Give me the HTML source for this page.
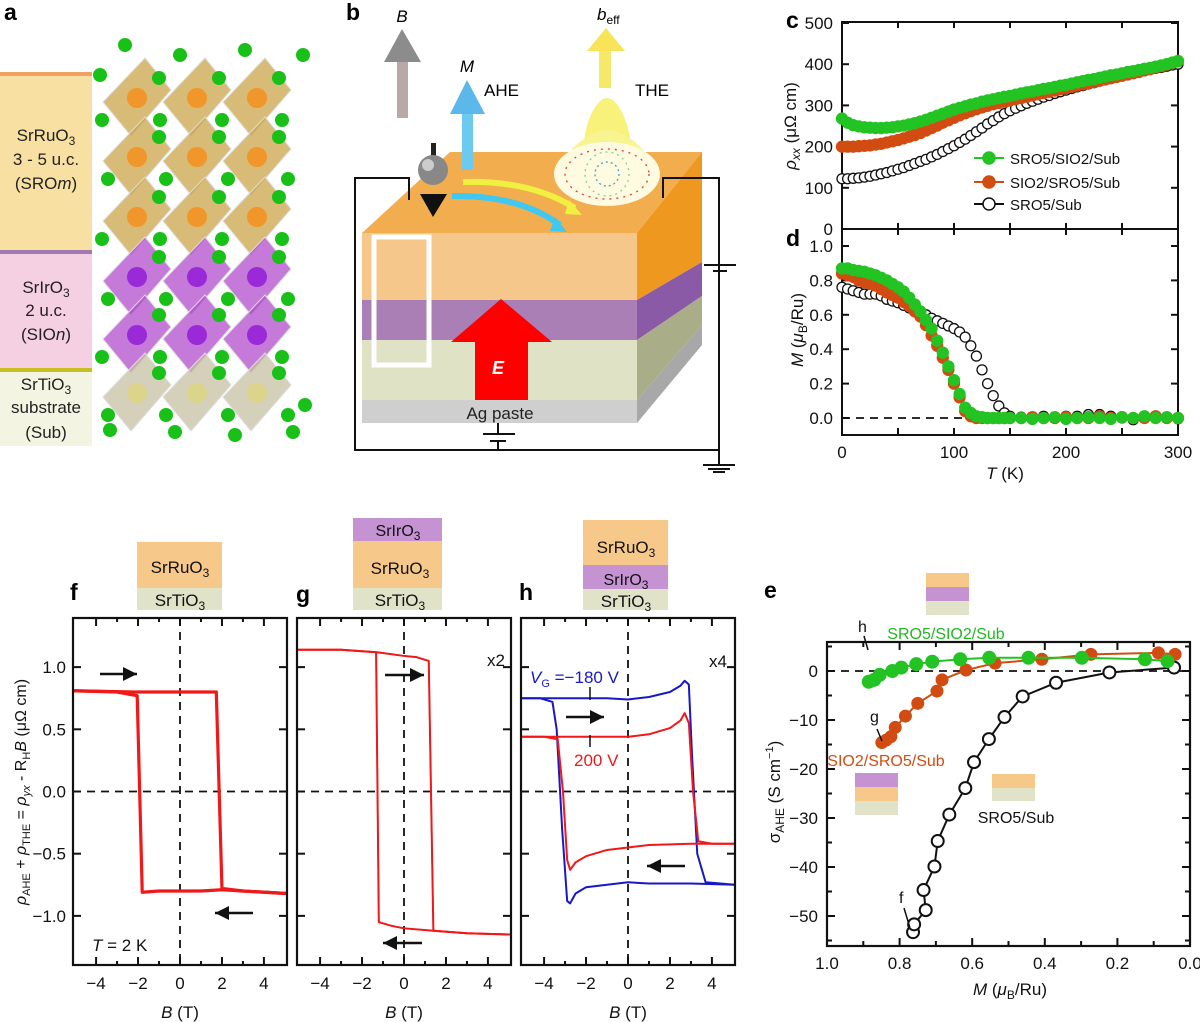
<!DOCTYPE html>
<html><head><meta charset="utf-8"><style>
html,body{margin:0;padding:0;background:#fff}
svg{display:block;font-family:"Liberation Sans",Arial,sans-serif}
</style></head><body>
<svg id="fig" xmlns="http://www.w3.org/2000/svg" width="1200" height="1022" viewBox="0 0 1200 1022">
<rect x="0" y="0" width="1200" height="1022" fill="#fff"/>
<g font-weight="bold" font-size="23">
<text x="4" y="20">a</text>
<text x="346" y="20">b</text>
<text x="786" y="28">c</text>
<text x="786" y="246">d</text>
<text x="70" y="600">f</text>
<text x="296" y="602">g</text>
<text x="519" y="600">h</text>
<text x="764" y="598">e</text>
</g>
<g font-size="17" text-anchor="middle" fill="#222">
<rect x="0" y="72" width="92" height="4" fill="#f0a060"/>
<rect x="0" y="76" width="92" height="174" fill="#f8e0a2"/>
<rect x="0" y="250" width="92" height="4" fill="#a07ab0"/>
<rect x="0" y="254" width="92" height="114" fill="#f5cfe2"/>
<rect x="0" y="368" width="92" height="4" fill="#c8c020"/>
<rect x="0" y="372" width="92" height="74" fill="#f4f4e2"/>
<text x="46" y="141">SrRuO<tspan font-size="12" dy="4">3</tspan></text>
<text x="46" y="165">3 - 5 u.c.</text>
<text x="46" y="189">(SRO<tspan font-style="italic">m</tspan>)</text>
<text x="46" y="293">SrIrO<tspan font-size="12" dy="4">3</tspan></text>
<text x="46" y="316">2 u.c.</text>
<text x="46" y="340">(SIO<tspan font-style="italic">n</tspan>)</text>
<text x="46" y="390">SrTiO<tspan font-size="12" dy="4">3</tspan></text>
<text x="46" y="413">substrate</text>
<text x="46" y="438">(Sub)</text>
</g>
<g id="crystal"></g>
<g>
<polygon points="362,233 637,233 702,152 450,152" fill="#f2ae4e"/>
<polygon points="637,233 702,152 702,262 637,300" fill="#ef9820"/>
<polygon points="637,300 702,262 702,296 637,340" fill="#8a5aa6"/>
<polygon points="637,340 702,296 702,325 637,400" fill="#aaae88"/>
<polygon points="637,400 702,325 702,345 637,423" fill="#a8a8a8"/>
<rect x="362" y="233" width="275" height="68" fill="#f6c78a"/>
<rect x="362" y="300" width="275" height="40" fill="#a97fb6"/>
<rect x="362" y="340" width="275" height="61" fill="#dfe2c4"/>
<rect x="362" y="400" width="275" height="23" fill="#cfcfcf"/>
<rect x="374" y="237" width="55" height="128" fill="none" stroke="#fff" stroke-width="5"/>
<polygon points="475,400 528,400 528,342 552,342 501,299 451,342 475,342" fill="#f00"/>
<text x="498" y="374" fill="#fff" font-weight="bold" font-style="italic" font-size="18" text-anchor="middle">E</text>
<text x="500" y="419" font-size="17" text-anchor="middle" fill="#222">Ag paste</text>
<path d="M409,200 V178 H355 V450 H719 V178 H663 V198" fill="none" stroke="#111" stroke-width="2"/>
<path d="M498,423 V434 M483,434 H515 M490,441 H506 M498,441 V450" stroke="#111" stroke-width="2" fill="none"/>
<path d="M704,265 H736 M713,271 H727" stroke="#111" stroke-width="2" fill="#fff"/>
<path d="M719,450 V465 M703,465 H735 M708,469 H730 M713,472 H725" stroke="#111" stroke-width="2" fill="none"/>
<path d="M585,160 C580,130 595,98 607,98 C619,98 634,130 630,160 Z" fill="#f8f27a"/>
<path d="M555,175 C565,150 590,130 607,130 C624,130 650,150 660,175 Z" fill="#f8f490"/>
<ellipse cx="607" cy="174" rx="53" ry="32" fill="#fffbe0"/>
<g stroke-width="1.3">
<circle cx="607" cy="174" r="22" fill="none" stroke="#7fd0a0" stroke-dasharray="2 4"/>
<circle cx="607" cy="174" r="12" fill="none" stroke="#40a0d0" stroke-dasharray="2 3"/>
<ellipse cx="607" cy="174" rx="42" ry="25" fill="none" stroke="#e04030" stroke-dasharray="2 5"/>
</g>
<rect x="397" y="62" width="11" height="56" fill="#b8a8a8"/>
<polygon points="384,62 421,62 402,29" fill="#8c8c8c"/>
<text x="402" y="22" font-style="italic" font-size="17" text-anchor="middle">B</text>
<rect x="462" y="113" width="11" height="57" fill="#6ccaf0"/>
<polygon points="450,114 485,114 467,80" fill="#5ab8ea"/>
<text x="467" y="72" font-style="italic" font-size="17" text-anchor="middle">M</text>
<text x="484" y="96" font-size="17">AHE</text>
<rect x="599" y="50" width="12" height="38" fill="#f6e96a"/>
<polygon points="587,51 625,51 606,28" fill="#f8e458"/>
<text x="597" y="20" font-style="italic" font-size="17">b<tspan font-style="normal" font-size="12" dy="4">eff</tspan></text>
<text x="635" y="96" font-size="17">THE</text>
<path d="M463,182 Q530,180 575,208" fill="none" stroke="#f0f040" stroke-width="6"/>
<polygon points="569,200 582,215 565,214" fill="#f0f040"/>
<path d="M452,196 Q520,195 560,225" fill="none" stroke="#40c8f0" stroke-width="6"/>
<polygon points="555,217 567,232 550,231" fill="#40c8f0"/>
<rect x="431" y="143" width="5" height="20" fill="#222"/>
<circle cx="433" cy="170" r="15" fill="#888"/>
<circle cx="428" cy="165" r="6" fill="#ddd" opacity="0.8"/>
<polygon points="420,194 447,194 433,217" fill="#111"/>
</g>
<g id="charts"></g>
</svg>
<script>
// ---------- panel c data ----------
const tempC = [0,5,10,15,20,25,30,35,40,45,50,55,60,65,70,75,80,85,90,95,100,105,110,115,120,125,130,135,140,145,150,155,160,165,170,175,180,185,190,195,200,205,210,215,220,225,230,235,240,245,250,255,260,265,270,275,280,285,290,295,300];
const rhoGreen = [268,258,252,249,247,246,245,245,246,247,249,251,254,257,261,265,270,275,280,285,290,294,298,302,305,309,312,315,318,321,323,326,329,332,334,337,340,342,345,348,350,353,356,359,362,364,367,370,373,375,378,381,383,386,389,391,394,397,400,404,408];
const rhoOrange = [200,200,200,201,202,203,205,207,210,213,216,220,224,228,233,239,245,251,258,264,270,276,281,286,291,295,299,303,306,309,312,315,318,321,324,327,330,333,336,339,342,345,348,351,354,357,360,363,366,369,372,375,378,381,385,388,392,395,399,403,407];
const rhoBlack = [122,122,123,124,126,128,131,134,137,141,145,149,154,159,164,169,175,181,188,195,202,210,218,227,236,245,255,263,272,280,287,293,299,305,310,315,320,324,329,333,337,341,345,348,352,355,359,362,365,369,372,375,378,381,384,387,390,392,395,398,400];
const rhoTicks = [0,100,200,300,400,500];
// ---------- panel d data ----------
const tempD = [0,5,10,15,20,25,30,35,40,45,50,55,60,65,70,75,80,85,90,95,100,105,110,115,120,125,130,135,140,145,150,160,170,180,190,200,210,220,230,240,250,260,270,280,290,300];
const magGreen = [0.87,0.87,0.86,0.855,0.85,0.84,0.83,0.815,0.80,0.78,0.76,0.735,0.70,0.66,0.62,0.57,0.52,0.45,0.38,0.30,0.22,0.14,0.06,0.03,0.01,0.005,0,0,0,0,0,0,-0.005,0,0.005,-0.005,0,0.005,0,-0.005,0.005,0,0.01,0,0.005,0];
const magOrange = [0.84,0.83,0.82,0.80,0.79,0.78,0.77,0.75,0.73,0.715,0.70,0.675,0.65,0.62,0.59,0.54,0.48,0.42,0.35,0.28,0.20,0.12,0.04,0.01,0,0,0,0,0,0,0,0,0.005,0,0,0.005,0,0,0.01,0,0.005,0,0,0.01,0,0];
const magBlack = [0.76,0.75,0.74,0.73,0.72,0.72,0.72,0.71,0.69,0.68,0.67,0.655,0.64,0.63,0.62,0.60,0.58,0.565,0.55,0.535,0.52,0.50,0.47,0.42,0.36,0.28,0.20,0.13,0.07,0.03,0.01,0.005,0,0.01,0,0.01,0.01,0.02,0.02,0.01,0,-0.01,0.01,0,0,-0.005];
const magTicks = [0,0.2,0.4,0.6,0.8,1.0];
const tempTicks = [0,100,200,300];
// ---------- panel e data ----------
const eGreenM = [0.885,0.87,0.855,0.82,0.795,0.754,0.71,0.633,0.553,0.445,0.298,0.124,0.062];
const eGreenS = [-2.2,-1.8,-0.8,0,0.7,1.4,1.9,2.4,2.7,2.7,2.7,2.4,2.0];
const eOrangeM = [0.849,0.837,0.824,0.812,0.784,0.75,0.697,0.683,0.617,0.537,0.408,0.273,0.087,0.041];
const eOrangeS = [-14.6,-14.1,-13.4,-11.5,-9.2,-6.6,-4.1,-1.8,0.2,1.6,2.4,3.4,3.7,3.4];
const eBlackM = [0.763,0.76,0.728,0.734,0.704,0.695,0.663,0.619,0.595,0.554,0.511,0.461,0.369,0.222,0.044];
const eBlackS = [-53.3,-51.7,-48.8,-44.7,-39.9,-34.7,-29.3,-23.9,-18.6,-13.9,-9.4,-5.2,-2.4,-0.3,0.7];
const eYTicks = [0,-10,-20,-30,-40,-50];
const eXTicks = [1.0,0.8,0.6,0.4,0.2,0.0];
// ---------- panels f,g,h data ----------
const fUpB = [-5.1,-2.2,-1,0,1,1.73,2.0,3,5.1];
const fUpR = [0.81,0.80,0.80,0.80,0.80,0.80,-0.78,-0.80,-0.82];
const fDnB = [5.1,3,2,1,0,-1,-1.8,-2.04,-3,-5.1];
const fDnR = [-0.82,-0.80,-0.79,-0.80,-0.80,-0.80,-0.81,0.77,0.80,0.81];
const gUpB = [-5.1,-3,-1.3,0,0.6,1.18,1.4,3,5.1];
const gUpR = [1.14,1.14,1.12,1.09,1.08,1.05,-1.12,-1.14,-1.15];
const gDnB = [5.1,3,1.4,0,-0.6,-1.2,-1.33,-3,-5.1];
const gDnR = [-1.15,-1.14,-1.12,-1.10,-1.08,-1.05,1.12,1.14,1.14];
const hBlueUpB = [-5.1,-3,-1,0,1,2,2.5,2.7,2.9,3.05,3.3,3.7,5.1];
const hBlueUpR = [0.75,0.75,0.75,0.74,0.76,0.80,0.85,0.89,0.86,0.3,-0.5,-0.73,-0.75];
const hBlueDnB = [5.1,3,1,0,-1,-2,-2.5,-2.76,-2.9,-3.14,-3.4,-3.6,-4.2,-5.1];
const hBlueDnR = [-0.75,-0.74,-0.74,-0.73,-0.75,-0.77,-0.82,-0.90,-0.88,-0.3,0.5,0.72,0.75,0.75];
const hRedUpB = [-5.1,-3,-1,0,1,2,2.5,2.7,2.9,3.1,3.35,4,5.1];
const hRedUpR = [0.44,0.44,0.44,0.44,0.46,0.51,0.57,0.63,0.55,0.0,-0.40,-0.42,-0.42];
const hRedDnB = [5.1,3,1,0,-1,-2,-2.5,-2.76,-2.9,-3.1,-3.35,-4,-5.1];
const hRedDnR = [-0.42,-0.42,-0.43,-0.45,-0.47,-0.52,-0.57,-0.63,-0.55,0.0,0.42,0.44,0.44];
const bTicks = [-4,-2,0,2,4];
const fYTicks = [1.0,0.5,0.0,-0.5,-1.0];
const fYTickLabels = ['1.0','0.5','0.0','\u22120.5','\u22121.0'];

const NS = 'http://www.w3.org/2000/svg';
const root = document.getElementById('charts');
function mk(tag, attrs, name, parent) {
  const el = document.createElementNS(NS, tag);
  for (const k in attrs) el.setAttribute(k, attrs[k]);
  
  
  (parent || root).appendChild(el);
  return el;
}
function txt(x, y, s, attrs, name, parent) {
  const a = Object.assign({x: x, y: y, 'font-size': 17, fill: '#111'}, attrs || {});
  const el = mk('text', a, name, parent);
  el.textContent = s;
  return el;
}
function scale(d0, d1, r0, r1) { return v => r0 + (v - d0) / (d1 - d0) * (r1 - r0); }
function fmtNeg(v, dec) { const s = Math.abs(v).toFixed(dec); return v < 0 ? '\u2212' + s : s; }

(function(){
  const g = document.getElementById('crystal');
  const cols = [137,197,257];
  const rows = [98,157,217,277,335,393];
  const fills = ['#c9a448','#c9a448','#c9a448','#b14ccc','#b14ccc','#c6c0a2'];
  const balls = ['#f0962a','#f0962a','#f0962a','#9a2ad8','#9a2ad8','#dcd48a'];
  rows.forEach((cy, r) => {
    cols.forEach(cx => {
      mk('polygon', {points: (cx+8)+','+(cy-40)+' '+(cx+34)+','+(cy-8)+' '+(cx-6)+','+(cy+38)+' '+(cx-34)+','+(cy+4), fill: fills[r], 'fill-opacity': 0.75, stroke: '#ddd', 'stroke-width': 1}, 'octahedron', g);
      mk('circle', {cx: cx, cy: cy, r: 10, fill: balls[r]}, 'b-site-ion', g);
      mk('circle', {cx: cx + 22, cy: cy - 20, r: 7, fill: '#18c018'}, 'sr-ion', g);
    });
    [102,160,222,282].forEach(x => {
      mk('circle', {cx: x + (r % 2) * 6, cy: cy + 22, r: 7, fill: '#18c018'}, 'sr-ion', g);
    });
  });
  [[125,45],[180,55],[245,50],[303,55],[100,75],[110,430],[175,432],[235,435],[293,432],[305,405]].forEach(p => {
    mk('circle', {cx: p[0], cy: p[1], r: 7, fill: '#18c018'}, 'sr-ion', g);
  });
})();

// ---------- panel c ----------
(function(){
  const g = mk('g', {}, 'panel-c-resistivity');
  const sx = scale(0, 300, 842, 1178);
  const sy = scale(0, 500, 229, 23);
  mk('rect', {x: 842, y: 22, width: 336, height: 207, fill: 'none', stroke: '#111', 'stroke-width': 2}, 'plot-frame-c', g);
  rhoTicks.forEach(v => {
    mk('line', {x1: 842, x2: 849, y1: sy(v), y2: sy(v), stroke: '#111', 'stroke-width': 2}, 'y-tick-c', g);
    mk('line', {x1: 1171, x2: 1178, y1: sy(v), y2: sy(v), stroke: '#111', 'stroke-width': 2}, 'y-tick-c-right', g);
    txt(833, sy(v) + 6, String(v), {'text-anchor': 'end'}, 'y-tick-label-c', g);
  });
  [50,100,150,200,250].forEach(v => {
    mk('line', {x1: sx(v), x2: sx(v), y1: 22, y2: 28, stroke: '#111', 'stroke-width': 2}, 'x-tick-c', g);
    mk('line', {x1: sx(v), x2: sx(v), y1: 223, y2: 235, stroke: '#111', 'stroke-width': 2}, 'x-tick-cd', g);
  });
  const yt = txt(0, 0, '', {transform: 'translate(796,126) rotate(-90)', 'text-anchor': 'middle'}, 'y-axis-title-c', g);
  yt.innerHTML = '<tspan font-style="italic">\u03c1</tspan><tspan font-style="italic" font-size="12" dy="4">xx</tspan><tspan dy="-4"> (\u03bc\u03a9 cm)</tspan>';
  function series(vals, fill, stroke, name, r) {
    tempC.forEach((t, i) => {
      mk('circle', {cx: sx(t), cy: sy(vals[i]), r: r, fill: fill, stroke: stroke, 'stroke-width': 1.3}, name, g);
    });
  }
  series(rhoBlack, '#fff', '#111', 'point-sro5-sub', 5);
  series(rhoOrange, '#d24c12', '#d24c12', 'point-sio2-sro5-sub', 5.5);
  series(rhoGreen, '#22c322', '#22c322', 'point-sro5-sio2-sub', 5.5);
  const leg = [['SRO5/SIO2/Sub', '#22c322', '#22c322', 158], ['SIO2/SRO5/Sub', '#d24c12', '#d24c12', 182], ['SRO5/Sub', '#fff', '#111', 204]];
  leg.forEach(l => {
    mk('line', {x1: 974, x2: 1004, y1: l[3], y2: l[3], stroke: l[2], 'stroke-width': 2}, 'legend-line', g);
    mk('circle', {cx: 989, cy: l[3], r: 6, fill: l[1], stroke: l[2], 'stroke-width': 1.5}, 'legend-marker', g);
    txt(1010, l[3] + 6, l[0], {'font-size': 15}, 'legend-entry', g);
  });
})();

// ---------- panel d ----------
(function(){
  const g = mk('g', {}, 'panel-d-magnetization');
  const sx = scale(0, 300, 842, 1178);
  const sy = scale(0, 1, 418, 246);
  mk('rect', {x: 842, y: 229, width: 336, height: 206, fill: 'none', stroke: '#111', 'stroke-width': 2}, 'plot-frame-d', g);
  mk('line', {x1: 842, x2: 1178, y1: sy(0), y2: sy(0), stroke: '#111', 'stroke-width': 1.8, 'stroke-dasharray': '8 6'}, 'zero-line-d', g);
  magTicks.forEach(v => {
    mk('line', {x1: 842, x2: 849, y1: sy(v), y2: sy(v), stroke: '#111', 'stroke-width': 2}, 'y-tick-d', g);
    mk('line', {x1: 1171, x2: 1178, y1: sy(v), y2: sy(v), stroke: '#111', 'stroke-width': 2}, 'y-tick-d-right', g);
    txt(833, sy(v) + 6, v.toFixed(1), {'text-anchor': 'end'}, 'y-tick-label-d', g);
  });
  [50,100,150,200,250].forEach(v => {
    mk('line', {x1: sx(v), x2: sx(v), y1: 428, y2: 435, stroke: '#111', 'stroke-width': 2}, 'x-tick-d', g);
  });
  tempTicks.forEach(v => txt(sx(v), 458, String(v), {'text-anchor': 'middle'}, 'x-tick-label-d', g));
  const xt = txt(1005, 479, '', {'text-anchor': 'middle'}, 'x-axis-title-d', g);
  xt.innerHTML = '<tspan font-style="italic">T</tspan> (K)';
  const yt = txt(0, 0, '', {transform: 'translate(803,330) rotate(-90)', 'text-anchor': 'middle'}, 'y-axis-title-d', g);
  yt.innerHTML = '<tspan font-style="italic">M</tspan> (<tspan font-style="italic">\u03bc</tspan><tspan font-size="12" dy="4">B</tspan><tspan dy="-4">/Ru)</tspan>';
  function series(vals, fill, stroke, name, r) {
    tempD.forEach((t, i) => {
      mk('circle', {cx: sx(t), cy: sy(vals[i]), r: r, fill: fill, stroke: stroke, 'stroke-width': 1.3}, name, g);
    });
  }
  series(magBlack, '#fff', '#111', 'point-sro5-sub', 5);
  series(magOrange, '#d24c12', '#d24c12', 'point-sio2-sro5-sub', 5.5);
  series(magGreen, '#22c322', '#22c322', 'point-sro5-sio2-sub', 5.5);
})();

function stack(g, x, y, w, layers, name) {
  let yy = y;
  layers.forEach(l => { mk('rect', {x: x, y: yy, width: w, height: l[1], fill: l[0]}, name, g); yy += l[1]; });
}
// ---------- panel e ----------
(function(){
  const g = mk('g', {}, 'panel-e-sigma-vs-m');
  const sx = scale(1, 0, 827, 1190);
  const sy = scale(0, -50, 671, 916);
  mk('rect', {x: 827, y: 642, width: 363, height: 304, fill: 'none', stroke: '#111', 'stroke-width': 2.2}, 'plot-frame-e', g);
  mk('line', {x1: 827, x2: 1190, y1: sy(0), y2: sy(0), stroke: '#111', 'stroke-width': 1.8, 'stroke-dasharray': '8 6'}, 'zero-line-e', g);
  [5,0,-5,-10,-15,-20,-25,-30,-35,-40,-45,-50,-55].forEach(v => {
    const L = v % 10 === 0 ? 8 : 5;
    mk('line', {x1: 827, x2: 827 + L, y1: sy(v), y2: sy(v), stroke: '#111', 'stroke-width': 2}, 'y-tick-e', g);
    mk('line', {x1: 1190 - L, x2: 1190, y1: sy(v), y2: sy(v), stroke: '#111', 'stroke-width': 2}, 'y-tick-e-right', g);
  });
  eYTicks.forEach(v => txt(818, sy(v) + 6, v === 0 ? '0' : '\u2212' + Math.abs(v), {'text-anchor': 'end'}, 'y-tick-label-e', g));
  [0.9,0.8,0.7,0.6,0.5,0.4,0.3,0.2,0.1].forEach(v => {
    const L = Math.round(v * 10) % 2 === 0 ? 8 : 5;
    mk('line', {x1: sx(v), x2: sx(v), y1: 946 - L, y2: 946, stroke: '#111', 'stroke-width': 2}, 'x-tick-e', g);
    mk('line', {x1: sx(v), x2: sx(v), y1: 642, y2: 642 + L, stroke: '#111', 'stroke-width': 2}, 'x-tick-e-top', g);
  });
  eXTicks.forEach(v => txt(sx(v), 969, v.toFixed(1), {'text-anchor': 'middle'}, 'x-tick-label-e', g));
  const xt = txt(1010, 995, '', {'text-anchor': 'middle'}, 'x-axis-title-e', g);
  xt.innerHTML = '<tspan font-style="italic">M</tspan> (<tspan font-style="italic">\u03bc</tspan><tspan font-size="12" dy="4">B</tspan><tspan dy="-4">/Ru)</tspan>';
  const yt = txt(0, 0, '', {transform: 'translate(780,792) rotate(-90)', 'text-anchor': 'middle'}, 'y-axis-title-e', g);
  yt.innerHTML = '\u03c3<tspan font-size="12" dy="4">AHE</tspan><tspan dy="-4"> (S cm</tspan><tspan font-size="11" dy="-7">\u22121</tspan><tspan dy="7">)</tspan>';
  function series(ms, ss, fill, stroke, name, r, sw) {
    mk('polyline', {points: ms.map((m, i) => sx(m) + ',' + sy(ss[i])).join(' '), fill: 'none', stroke: stroke, 'stroke-width': 2}, name + '-line', g);
    ms.forEach((m, i) => mk('circle', {cx: sx(m), cy: sy(ss[i]), r: r, fill: fill, stroke: stroke, 'stroke-width': sw}, name + '-point', g));
  }
  series(eBlackM, eBlackS, '#fff', '#111', 'sro5-sub', 6, 2);
  series(eOrangeM, eOrangeS, '#d24c12', '#d24c12', 'sio2-sro5-sub', 6, 1);
  series(eGreenM, eGreenS, '#22c322', '#22c322', 'sro5-sio2-sub', 6.5, 1);
  txt(858, 632, 'h', {'font-size': 16}, 'label-h', g);
  mk('line', {x1: 864, x2: 868, y1: 636, y2: 650, stroke: '#111', 'stroke-width': 1.5}, 'leader-h', g);
  txt(870, 722, 'g', {'font-size': 16}, 'label-g', g);
  mk('line', {x1: 877, x2: 882, y1: 729, y2: 741, stroke: '#111', 'stroke-width': 1.5}, 'leader-g', g);
  txt(899, 903, 'f', {'font-size': 16}, 'label-f', g);
  mk('line', {x1: 904, x2: 910, y1: 908, y2: 928, stroke: '#111', 'stroke-width': 1.5}, 'leader-f', g);
  txt(946, 639, 'SRO5/SIO2/Sub', {'text-anchor': 'middle', fill: '#22b822', 'font-size': 16}, 'label-sro5-sio2-sub', g);
  txt(886, 766, 'SIO2/SRO5/Sub', {'text-anchor': 'middle', fill: '#d24c12', 'font-size': 16}, 'label-sio2-sro5-sub', g);
  txt(1016, 823, 'SRO5/Sub', {'text-anchor': 'middle', 'font-size': 16}, 'label-sro5-sub', g);
  stack(g, 926, 573, 43, [['#f6c98a',14],['#c693d2',14],['#e0e3c8',14]], 'layer-icon-sro5-sio2');
  stack(g, 855, 773, 43, [['#c693d2',14],['#f6c98a',14],['#e0e3c8',14]], 'layer-icon-sio2-sro5');
  stack(g, 992, 774, 43, [['#f6c98a',14],['#e0e3c8',13]], 'layer-icon-sro5');
})();

// ---------- panels f, g, h ----------
function loopPanel(x0, x1, name, curves, withYLabels) {
  const g = mk('g', {}, name);
  const sx = scale(-5.1, 5.1, x0, x1);
  const sy = scale(-1.395, 1.395, 965, 618);
  mk('line', {x1: x0, x2: x1, y1: sy(0), y2: sy(0), stroke: '#111', 'stroke-width': 1.8, 'stroke-dasharray': '8 6'}, 'zero-line-horizontal', g);
  mk('line', {x1: sx(0), x2: sx(0), y1: 618, y2: 965, stroke: '#111', 'stroke-width': 1.8, 'stroke-dasharray': '8 6'}, 'zero-line-vertical', g);
  curves.forEach(c => {
    mk('polyline', {points: c[0].map((b, i) => sx(b) + ',' + sy(c[1][i])).join(' '), fill: 'none', stroke: c[2], 'stroke-width': c[3], 'stroke-linejoin': 'round'}, c[4], g);
  });
  mk('rect', {x: x0, y: 618, width: x1 - x0, height: 347, fill: 'none', stroke: '#111', 'stroke-width': 2.2}, 'plot-frame', g);
  [-4,-3,-2,-1,0,1,2,3,4].forEach(v => {
    const L = v % 2 === 0 ? 8 : 4;
    mk('line', {x1: sx(v), x2: sx(v), y1: 965 - L, y2: 965, stroke: '#111', 'stroke-width': 2}, 'x-tick', g);
    mk('line', {x1: sx(v), x2: sx(v), y1: 618, y2: 618 + L, stroke: '#111', 'stroke-width': 2}, 'x-tick-top', g);
  });
  fYTicks.forEach(v => {
    mk('line', {x1: x0, x2: x0 + 8, y1: sy(v), y2: sy(v), stroke: '#111', 'stroke-width': 2}, 'y-tick', g);
    mk('line', {x1: x1 - 8, x2: x1, y1: sy(v), y2: sy(v), stroke: '#111', 'stroke-width': 2}, 'y-tick-right', g);
  });
  if (withYLabels) fYTicks.forEach((v, i) => txt(66, sy(v) + 6, fYTickLabels[i], {'text-anchor': 'end'}, 'y-tick-label', g));
  bTicks.forEach(v => txt(sx(v), 989, fmtNeg(v, 0), {'text-anchor': 'middle'}, 'x-tick-label', g));
  const xt = txt(sx(0), 1018, '', {'text-anchor': 'middle'}, 'x-axis-title', g);
  xt.innerHTML = '<tspan font-style="italic">B</tspan> (T)';
  return {g: g, sx: sx, sy: sy};
}
function arrow(g, xa, xb, y, name) {
  mk('line', {x1: xa, x2: xb, y1: y, y2: y, stroke: '#111', 'stroke-width': 2.5}, name + '-shaft', g);
  const dir = xb > xa ? 1 : -1;
  mk('polygon', {points: xb + ',' + y + ' ' + (xb - dir * 14) + ',' + (y - 7) + ' ' + (xb - dir * 14) + ',' + (y + 7), fill: '#111'}, name + '-head', g);
}
(function(){
  const f = loopPanel(73, 287, 'panel-f-loop', [
    [fUpB, fUpR, '#2020b0', 1.5, 'loop-blue-up'], [fDnB, fDnR, '#2020b0', 1.5, 'loop-blue-down'],
    [fUpB, fUpR, '#f01818', 3.2, 'loop-red-up'], [fDnB, fDnR, '#f01818', 3.2, 'loop-red-down']], true);
  arrow(f.g, 100, 137, 674, 'sweep-up-arrow');
  arrow(f.g, 253, 215, 913, 'sweep-down-arrow');
  const t = txt(92, 951, '', {}, 'temperature-label', f.g);
  t.innerHTML = '<tspan font-style="italic">T</tspan> = 2 K';
  const yt = txt(0, 0, '', {transform: 'translate(26,792) rotate(-90)', 'text-anchor': 'middle', 'font-size': 16}, 'y-axis-title-f', f.g);
  yt.innerHTML = '<tspan font-style="italic">\u03c1</tspan><tspan font-size="11" dy="4">AHE</tspan><tspan dy="-4"> + </tspan><tspan font-style="italic">\u03c1</tspan><tspan font-size="11" dy="4">THE</tspan><tspan dy="-4"> = </tspan><tspan font-style="italic">\u03c1</tspan><tspan font-style="italic" font-size="11" dy="4">yx</tspan><tspan dy="-4"> - R</tspan><tspan font-size="11" dy="4">H</tspan><tspan dy="-4" font-style="italic">B</tspan><tspan> (\u03bc\u03a9 cm)</tspan>';
  stack(f.g, 137, 542, 85, [['#f6c98a',46],['#e0e3c8',22]], 'layer-icon-f');
  const a1 = txt(180, 573, '', {'text-anchor': 'middle'}, 'layer-sro', f.g); a1.innerHTML = 'SrRuO<tspan font-size="12" dy="4">3</tspan>';
  const a2 = txt(180, 606, '', {'text-anchor': 'middle'}, 'layer-sto', f.g); a2.innerHTML = 'SrTiO<tspan font-size="12" dy="4">3</tspan>';

  const gg = loopPanel(297, 511, 'panel-g-loop', [
    [gUpB, gUpR, '#2020b0', 1.5, 'loop-blue-up'], [gDnB, gDnR, '#2020b0', 1.5, 'loop-blue-down'],
    [gUpB, gUpR, '#f01818', 2, 'loop-red-up'], [gDnB, gDnR, '#f01818', 2, 'loop-red-down']], false);
  arrow(gg.g, 385, 424, 675, 'sweep-up-arrow');
  arrow(gg.g, 422, 383, 943, 'sweep-down-arrow');
  txt(487, 666, 'x2', {}, 'scale-factor-g', gg.g);
  stack(gg.g, 353, 518, 89, [['#c693d2',23],['#f6c98a',47],['#e0e3c8',22]], 'layer-icon-g');
  const b1 = txt(398, 536, '', {'text-anchor': 'middle', 'font-size': 16}, 'layer-sio', gg.g); b1.innerHTML = 'SrIrO<tspan font-size="12" dy="4">3</tspan>';
  const b2 = txt(400, 574, '', {'text-anchor': 'middle'}, 'layer-sro', gg.g); b2.innerHTML = 'SrRuO<tspan font-size="12" dy="4">3</tspan>';
  const b3 = txt(400, 606, '', {'text-anchor': 'middle'}, 'layer-sto', gg.g); b3.innerHTML = 'SrTiO<tspan font-size="12" dy="4">3</tspan>';

  const h = loopPanel(521, 735, 'panel-h-loop', [
    [hBlueUpB, hBlueUpR, '#1818c8', 2, 'loop-minus180v-up'], [hBlueDnB, hBlueDnR, '#1818c8', 2, 'loop-minus180v-down'],
    [hRedUpB, hRedUpR, '#f01818', 2, 'loop-200v-up'], [hRedDnB, hRedDnR, '#f01818', 2, 'loop-200v-down']], false);
  arrow(h.g, 566, 604, 717, 'sweep-up-arrow');
  arrow(h.g, 685, 647, 866, 'sweep-down-arrow');
  txt(709, 667, 'x4', {}, 'scale-factor-h', h.g);
  const vg = txt(530, 683, '', {fill: '#1818c8'}, 'gate-voltage-minus180', h.g);
  vg.innerHTML = '<tspan font-style="italic">V</tspan><tspan font-size="11" dy="4">G</tspan><tspan dy="-4"> =\u2212180 V</tspan>';
  txt(574, 766, '200 V', {fill: '#f01818'}, 'gate-voltage-200', h.g);
  mk('line', {x1: 590, x2: 590, y1: 687, y2: 700, stroke: '#111', 'stroke-width': 1.5}, 'leader-minus180', h.g);
  mk('line', {x1: 590, x2: 590, y1: 735, y2: 747, stroke: '#111', 'stroke-width': 1.5}, 'leader-200', h.g);
  stack(h.g, 583, 520, 85, [['#f6c98a',45],['#c693d2',24],['#e0e3c8',21]], 'layer-icon-h');
  const c1 = txt(626, 553, '', {'text-anchor': 'middle'}, 'layer-sro', h.g); c1.innerHTML = 'SrRuO<tspan font-size="12" dy="4">3</tspan>';
  const c2 = txt(626, 585, '', {'text-anchor': 'middle', 'font-size': 16}, 'layer-sio', h.g); c2.innerHTML = 'SrIrO<tspan font-size="12" dy="4">3</tspan>';
  const c3 = txt(626, 607, '', {'text-anchor': 'middle'}, 'layer-sto', h.g); c3.innerHTML = 'SrTiO<tspan font-size="12" dy="4">3</tspan>';
})();
</script>
</body></html>
